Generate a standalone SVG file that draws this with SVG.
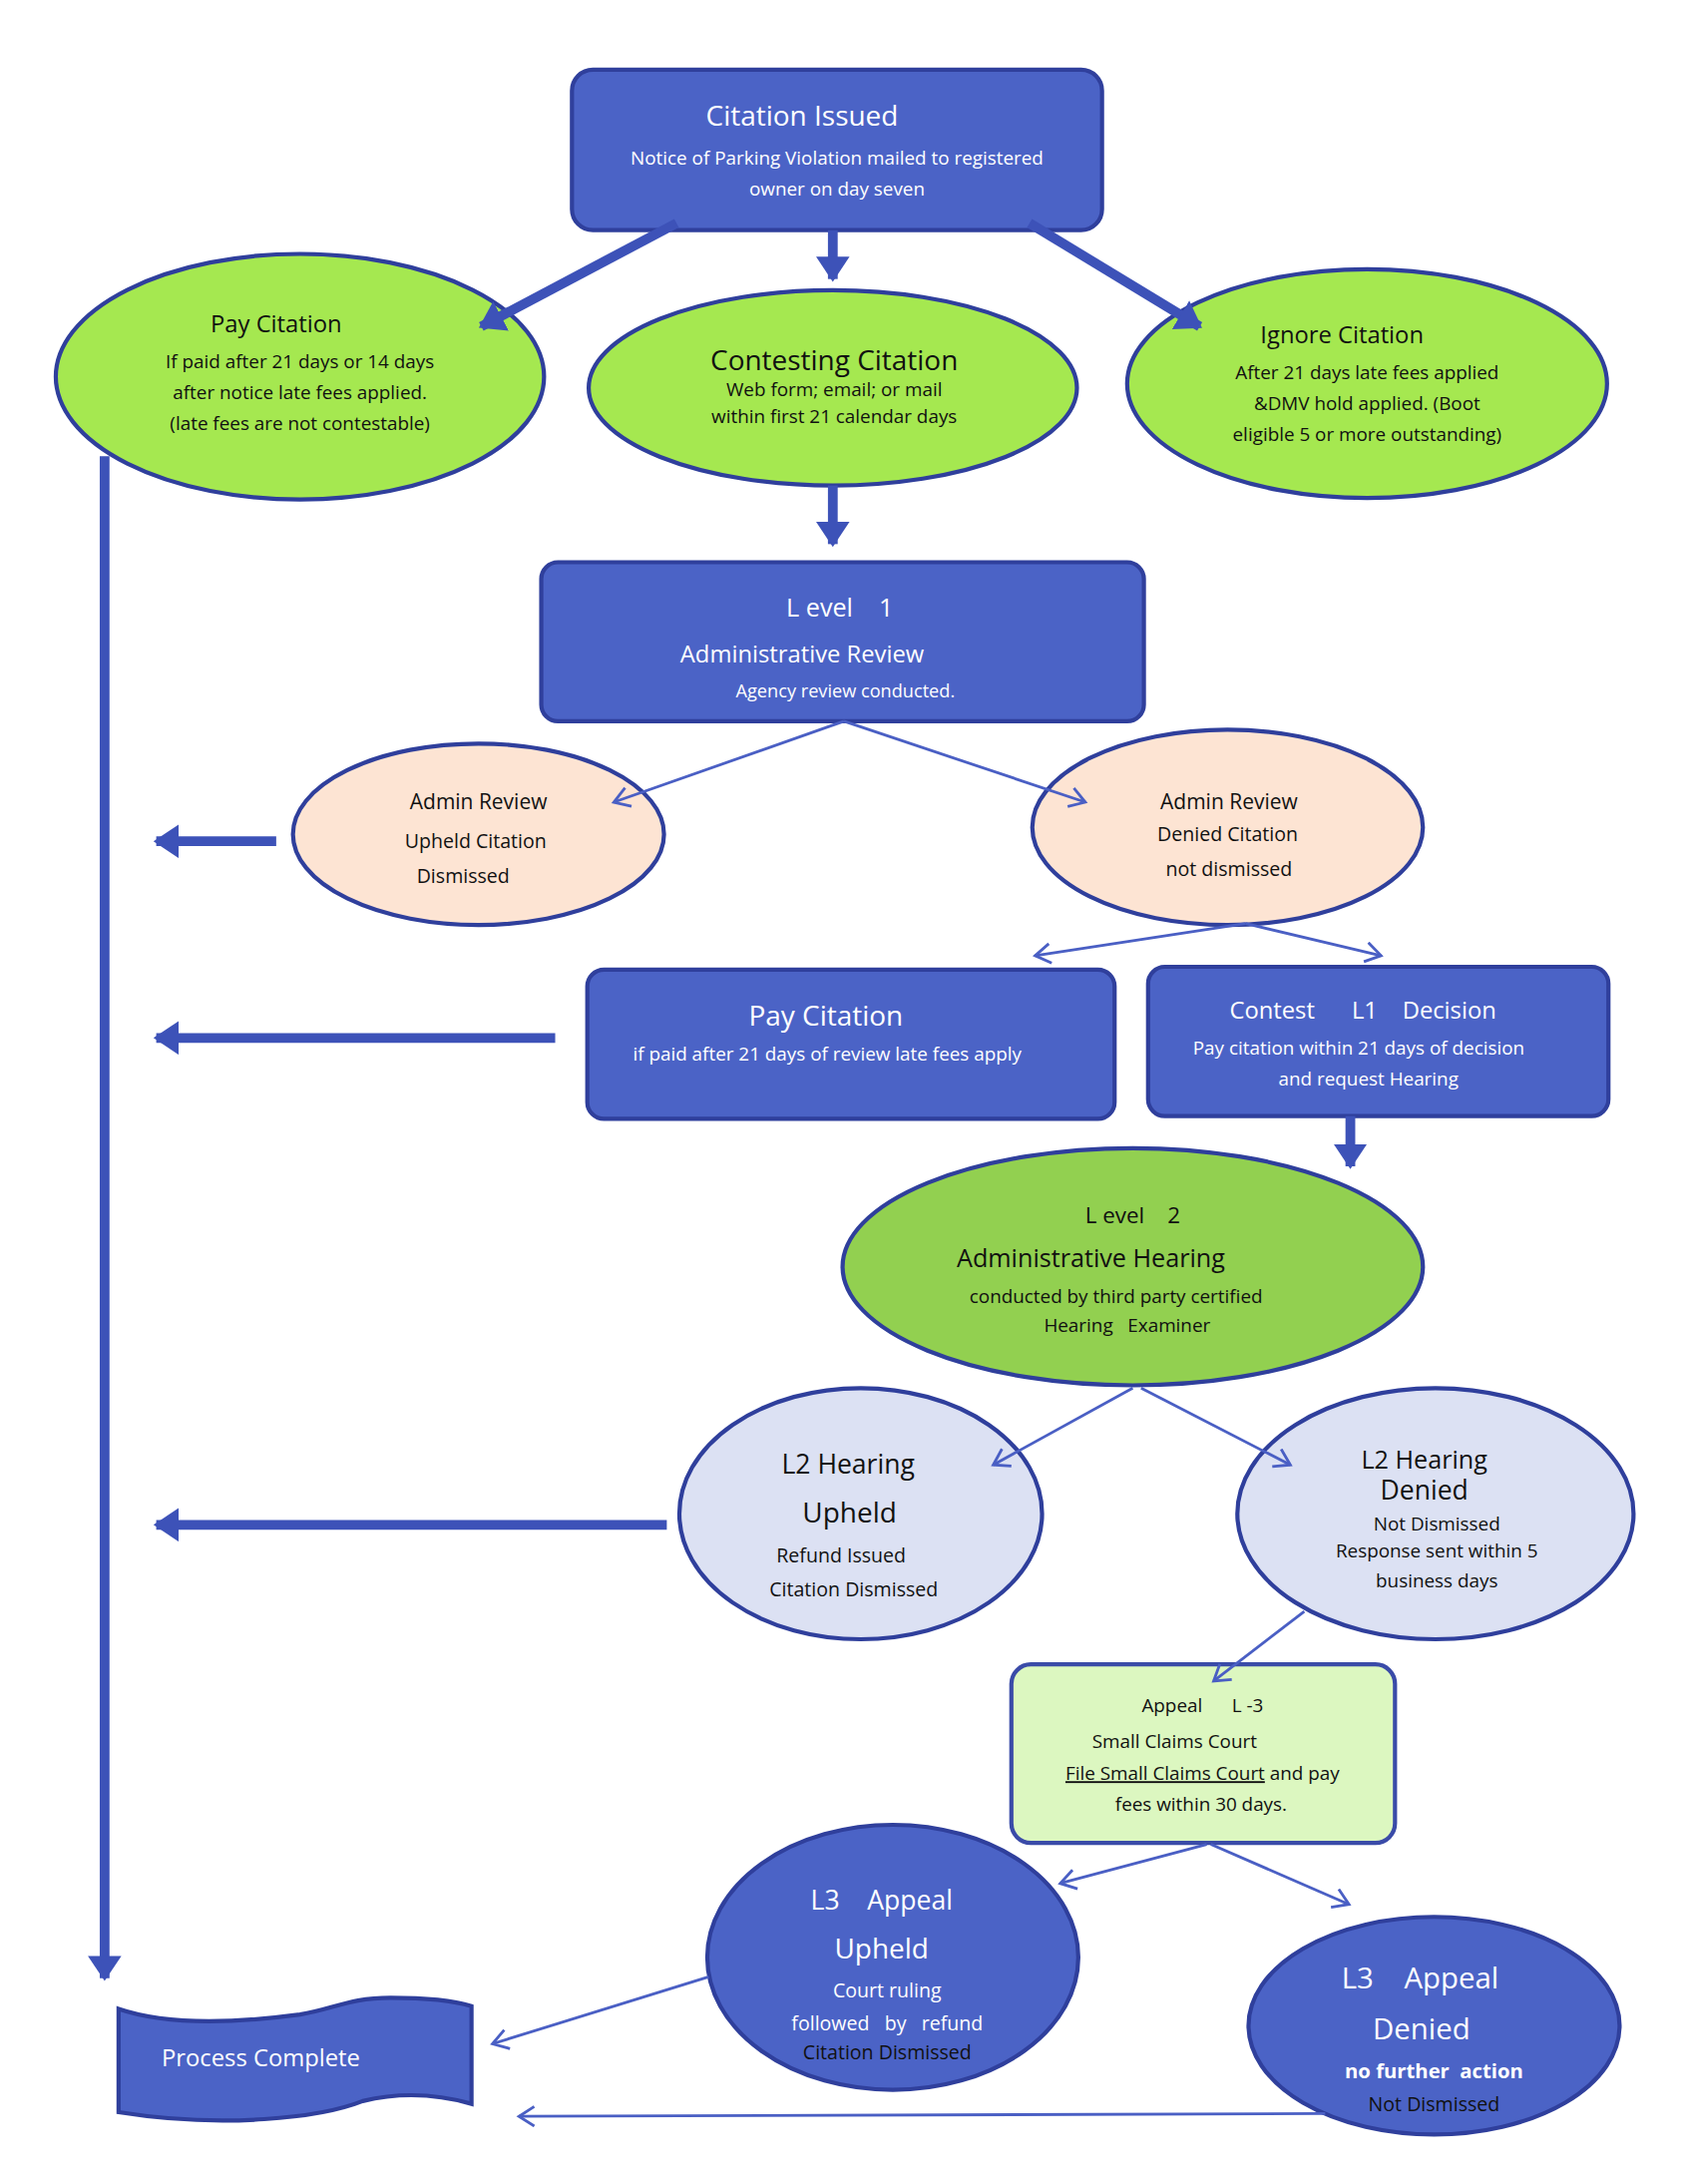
<svg xmlns="http://www.w3.org/2000/svg" width="1692" height="2189" viewBox="0 0 1692 2189">
<style>
text{font-family:"Open Sans","Noto Sans","Liberation Sans",sans-serif;text-anchor:middle}
.w{fill:#fff}.d{fill:#111}
.blue{fill:#4b63c6;stroke:#2f3f9c;stroke-width:3}
.lime{fill:#a5e850;stroke:#2f3f9c;stroke-width:3}
.peach{fill:#fde4d3;stroke:#2f3f9c;stroke-width:3}
.lav{fill:#dce1f3;stroke:#2f3f9c;stroke-width:3}
.thick{stroke:#3d52b8;stroke-width:7;fill:none}
.thin{stroke:#4a5fc4;stroke-width:2;fill:none}
</style>
<defs>
<marker id="big" markerUnits="userSpaceOnUse" markerWidth="30" markerHeight="30" refX="16" refY="12" orient="auto"><path d="M0,0 L18,12 L0,24 Z" fill="#3d52b8"/></marker>
<marker id="open" markerUnits="userSpaceOnUse" markerWidth="20" markerHeight="20" refX="12" refY="8" orient="auto"><path d="M1,1 L12,8 L1,15" fill="none" stroke="#4a5fc4" stroke-width="2"/></marker>
</defs>
<rect width="1692" height="2189" fill="#fff"/>
<g transform="scale(1.3983)">
<g id="citation-issued"><rect class="blue" x="410" y="50" width="380" height="115" rx="15"/>
<text class="w" x="575" y="90" font-size="20">Citation Issued</text>
<text class="w" x="600" y="118" font-size="13.5">Notice of Parking Violation mailed to registered</text>
<text class="w" x="600" y="140" font-size="13.5">owner on day seven</text></g>
<g id="pay-citation"><ellipse class="lime" cx="215" cy="270" rx="175" ry="88"/>
<text class="d" x="198" y="238" font-size="17">Pay Citation</text>
<text class="d" x="215" y="264" font-size="13.5">If paid after 21 days or 14 days</text>
<text class="d" x="215" y="286" font-size="13.5">after notice late fees applied.</text>
<text class="d" x="215" y="308" font-size="13.5">(late fees are not contestable)</text></g>
<g id="contesting"><ellipse class="lime" cx="597" cy="278" rx="175" ry="70"/>
<text class="d" x="598" y="265" font-size="20">Contesting Citation</text>
<text class="d" x="598" y="284" font-size="13.5">Web form; email; or mail</text>
<text class="d" x="598" y="303" font-size="13.5">within first 21 calendar days</text></g>
<g id="ignore"><ellipse class="lime" cx="980" cy="275" rx="172" ry="82"/>
<text class="d" x="962" y="246" font-size="17">Ignore Citation</text>
<text class="d" x="980" y="272" font-size="13.5">After 21 days late fees applied</text>
<text class="d" x="980" y="294" font-size="13.5">&amp;DMV hold applied.  (Boot</text>
<text class="d" x="980" y="316" font-size="13.5">eligible 5 or more outstanding)</text></g>
<g id="level1"><rect class="blue" x="388" y="403" width="432" height="114" rx="12"/>
<text class="w" x="602" y="442" font-size="18" xml:space="preserve">L evel    1</text>
<text class="w" x="575" y="475" font-size="17">Administrative Review</text>
<text class="w" x="606" y="500" font-size="13">Agency review conducted.</text></g>
<g id="admin-upheld"><ellipse class="peach" cx="343" cy="598" rx="133" ry="65"/>
<text class="d" x="343" y="580" font-size="15">Admin Review</text>
<text class="d" x="341" y="608" font-size="14">Upheld Citation</text>
<text class="d" x="332" y="633" font-size="14">Dismissed</text></g>
<g id="admin-denied"><ellipse class="peach" cx="880" cy="593" rx="140" ry="70"/>
<text class="d" x="881" y="580" font-size="15">Admin Review</text>
<text class="d" x="880" y="603" font-size="14">Denied Citation</text>
<text class="d" x="881" y="628" font-size="14">not dismissed</text></g>
<g id="pay-l1"><rect class="blue" x="421" y="695" width="378" height="107" rx="12"/>
<text class="w" x="592" y="735" font-size="20">Pay Citation</text>
<text class="w" x="593" y="760" font-size="13.5">if paid after 21 days of review late  fees apply</text></g>
<g id="contest-l1"><rect class="blue" x="823" y="693" width="330" height="107" rx="12"/>
<text class="w" x="977" y="730" font-size="17" xml:space="preserve">Contest      L1    Decision</text>
<text class="w" x="974" y="756" font-size="13.5">Pay citation within 21 days of decision</text>
<text class="w" x="981" y="778" font-size="13.5">and request Hearing</text></g>
<g id="level2"><ellipse cx="812" cy="908" rx="208" ry="85" fill="#92d050" stroke="#2f3f9c" stroke-width="3"/>
<text class="d" x="812" y="877" font-size="16" xml:space="preserve">L evel    2</text>
<text class="d" x="782" y="908" font-size="18">Administrative Hearing</text>
<text class="d" x="800" y="934" font-size="13.5">conducted by third party certified</text>
<text class="d" x="808" y="955" font-size="13.5" xml:space="preserve">Hearing   Examiner</text></g>
<g id="l2-upheld"><ellipse class="lav" cx="617" cy="1085" rx="130" ry="90"/>
<text class="d" x="608" y="1056" font-size="19">L2 Hearing</text>
<text class="d" x="609" y="1091" font-size="20">Upheld</text>
<text class="d" x="603" y="1120" font-size="14">Refund Issued</text>
<text class="d" x="612" y="1144" font-size="14">Citation Dismissed</text></g>
<g id="l2-denied"><ellipse class="lav" cx="1029" cy="1085" rx="142" ry="90"/>
<text class="d" x="1021" y="1053" font-size="18">L2 Hearing</text>
<text class="d" x="1021" y="1075" font-size="19">Denied</text>
<text class="d" x="1030" y="1097" font-size="13.5">Not Dismissed</text>
<text class="d" x="1030" y="1116" font-size="13.5">Response sent within 5</text>
<text class="d" x="1030" y="1138" font-size="13.5">business days</text></g>
<g id="appeal-l3"><rect x="725" y="1193" width="275" height="128" rx="14" fill="#dcf7c0" stroke="#3a4ba8" stroke-width="3"/>
<text class="d" x="862" y="1227" font-size="13.5" xml:space="preserve">Appeal      L -3</text>
<text class="d" x="842" y="1253" font-size="13.5">Small Claims Court</text>
<text class="d" x="862" y="1276" font-size="13.5"><tspan text-decoration="underline">File Small Claims Court</tspan> and pay</text>
<text class="d" x="861" y="1298" font-size="13.5">fees within 30 days.</text></g>
<g id="l3-upheld"><ellipse class="blue" cx="640" cy="1403" rx="133" ry="95"/>
<text class="w" x="632" y="1369" font-size="19" xml:space="preserve">L3    Appeal</text>
<text class="w" x="632" y="1404" font-size="20">Upheld</text>
<text class="w" x="636" y="1432" font-size="14">Court ruling</text>
<text class="w" x="636" y="1455" font-size="14" xml:space="preserve">followed   by   refund</text>
<text class="d" x="636" y="1476" font-size="14">Citation Dismissed</text></g>
<g id="l3-denied"><ellipse class="blue" cx="1028" cy="1452" rx="133" ry="78"/>
<text class="w" x="1018" y="1425" font-size="21" xml:space="preserve">L3    Appeal</text>
<text class="w" x="1019" y="1462" font-size="21">Denied</text>
<text class="w" x="1028" y="1490" font-size="14.5" font-weight="bold" xml:space="preserve">no further  action</text>
<text class="d" x="1028" y="1513" font-size="14">Not Dismissed</text></g>
<g id="process-complete"><path class="blue" d="M85,1440 C120,1452 170,1450 215,1444 C240,1440 250,1432 280,1432 C305,1432 325,1434 338,1438 L338,1508 C310,1500 285,1500 260,1506 C230,1518 160,1526 85,1514 Z"/>
<text class="w" x="187" y="1481" font-size="17">Process Complete</text></g>
<g id="connectors">
<line class="thick" x1="485" y1="160" x2="345" y2="234" marker-end="url(#big)"/>
<line class="thick" x1="597" y1="165" x2="597" y2="200" marker-end="url(#big)"/>
<line class="thick" x1="738" y1="160" x2="860" y2="234" marker-end="url(#big)"/>
<line class="thick" x1="597" y1="348" x2="597" y2="390" marker-end="url(#big)"/>
<line class="thin" x1="605" y1="517" x2="440" y2="575" marker-end="url(#open)"/>
<line class="thin" x1="605" y1="517" x2="778" y2="575" marker-end="url(#open)"/>
<line class="thick" x1="198" y1="603" x2="112" y2="603" marker-end="url(#big)"/>
<line class="thin" x1="893" y1="662" x2="742" y2="685" marker-end="url(#open)"/>
<line class="thin" x1="893" y1="662" x2="990" y2="685" marker-end="url(#open)"/>
<line class="thick" x1="398" y1="744" x2="112" y2="744" marker-end="url(#big)"/>
<line class="thick" x1="968" y1="800" x2="968" y2="836" marker-end="url(#big)"/>
<line class="thin" x1="812" y1="995" x2="712" y2="1050" marker-end="url(#open)"/>
<line class="thin" x1="818" y1="995" x2="925" y2="1050" marker-end="url(#open)"/>
<line class="thick" x1="478" y1="1093" x2="112" y2="1093" marker-end="url(#big)"/>
<line class="thin" x1="935" y1="1155" x2="870" y2="1205" marker-end="url(#open)"/>
<line class="thin" x1="865" y1="1322" x2="760" y2="1350" marker-end="url(#open)"/>
<line class="thin" x1="868" y1="1322" x2="967" y2="1365" marker-end="url(#open)"/>
<line class="thin" x1="508" y1="1417" x2="353" y2="1465" marker-end="url(#open)"/>
<line class="thin" x1="950" y1="1515" x2="372" y2="1517" marker-end="url(#open)"/>
<line class="thick" x1="75" y1="327" x2="75" y2="1418" marker-end="url(#big)"/>
</g>
</g>
</svg>
